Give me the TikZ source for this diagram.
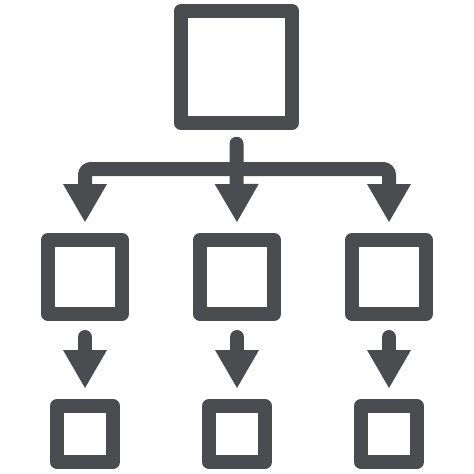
\documentclass[tikz,border=0pt]{standalone}
\usetikzlibrary{arrows.meta}
\definecolor{icongray}{RGB}{74,76,80}

\begin{document}
\begin{tikzpicture}[x=1pt, y=-1pt,
  box/.style={draw=icongray, line width=14pt, line join=round, minimum size=#1, inner sep=0pt},
  link/.style={draw=icongray, line width=14pt, line cap=round},
  downtip/.style={-{Triangle[width=44pt, length=38pt, line width=0pt, fill=icongray]}, shorten >=11pt}]
\useasboundingbox (0,0) rectangle (474,474);

% Top box
\node[box=111.5pt] (top) at (236.5,67) {};

% Middle row
\node[box=74pt] (mid1) at (85,277) {};
\node[box=74pt] (mid2) at (237,277) {};
\node[box=74pt] (mid3) at (389,277) {};

% Bottom row
\node[box=56pt] (low1) at (85,434) {};
\node[box=56pt] (low2) at (237,434) {};
\node[box=56pt] (low3) at (389,434) {};

% Branching
\coordinate (hub) at (236.5,169);
\draw[link, downtip] ([yshift=-14pt]top.south) -- (mid2.north);
\draw[link, downtip, rounded corners=6pt] (hub) -| (mid1.north);
\draw[link, downtip, rounded corners=6pt] (hub) -| (mid3.north);

% Lower arrows
\draw[link, downtip] ([yshift=-16pt]mid1.south) -- (low1.north);
\draw[link, downtip] ([yshift=-16pt]mid2.south) -- (low2.north);
\draw[link, downtip] ([yshift=-16pt]mid3.south) -- (low3.north);
\end{tikzpicture}
\end{document}
